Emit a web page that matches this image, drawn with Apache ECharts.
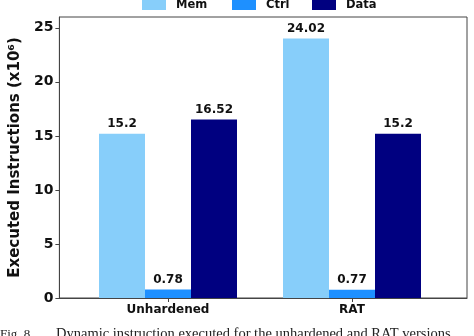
<!DOCTYPE html>
<html><head><meta charset="utf-8">
<script src="https://cdn.jsdelivr.net/npm/echarts@6/dist/echarts.min.js"></script>
<style>html,body{margin:0;padding:0;background:#fff;}#c{width:474px;height:336px;}</style>
</head><body><div id="c"></div>
<script>
const categories = ['Unhardened', 'RAT'];
const memValues = [15.2, 24.02];
const ctrlValues = [0.78, 0.77];
const dataValues = [16.52, 15.2];
const yTicks = [0, 5, 10, 15, 20, 25];
const seriesNames = ['Mem', 'Ctrl', 'Data'];

const F = 'DejaVu Sans';
const chart = echarts.init(document.getElementById('c'));
const lbl = {show: true, position: 'top', distance: 4, color: '#111', fontFamily: F, fontWeight: 'bold', fontSize: 12};
function series(name, vals, color) {
  return {name, type: 'bar', xAxisIndex: 1, yAxisIndex: 1, data: vals, barWidth: 46, barGap: '0%',
    itemStyle: {color}, label: lbl};
}
const legendLefts = [142, 232, 312];
const legends = seriesNames.map((n, i) => ({
  top: -1, left: legendLefts[i], itemWidth: 24, itemHeight: 10, icon: 'rect', padding: 0,
  textStyle: {fontFamily: F, fontWeight: 'bold', fontSize: 11.5, color: '#111', padding: [0, 0, 0, 5]},
  data: [n]
}));
chart.setOption({
  animation: false,
  textStyle: {fontFamily: F},
  legend: legends,
  grid: [
    {left: 53, right: 7, top: 17, bottom: 38, show: true, borderColor: '#444', borderWidth: 1},
    {left: 76, right: 30, top: 17, bottom: 38}
  ],
  xAxis: [
    {type: 'value', gridIndex: 0, min: 0, max: 1, axisLabel: {show: false}, axisTick: {show: false}, splitLine: {show: false},
      axisLine: {show: true, lineStyle: {color: '#444'}}},
    {type: 'category', gridIndex: 1, data: categories,
      axisLine: {show: false}, axisTick: {show: true, alignWithLabel: true, length: 4, lineStyle: {color: '#444'}},
      axisLabel: {margin: 6, color: '#111', fontFamily: F, fontWeight: 'bold', fontSize: 12}}
  ],
  yAxis: [
    {type: 'value', gridIndex: 0, min: 0, max: 26, interval: 5,
      name: 'Executed Instructions (x10⁶)', nameLocation: 'middle', nameGap: 30,
      nameTextStyle: {fontFamily: F, fontWeight: 'bold', fontSize: 15, color: '#111'},
      axisLine: {show: true, lineStyle: {color: '#444'}}, axisTick: {show: true, length: 4, lineStyle: {color: '#444'}},
      axisLabel: {showMaxLabel: false, margin: 6, color: '#111', fontFamily: F, fontWeight: 'bold', fontSize: 14,
        formatter: v => yTicks.includes(v) ? String(v) : ''},
      splitLine: {show: false}},
    {type: 'value', gridIndex: 1, min: 0, max: 26, show: false}
  ],
  series: [
    series(seriesNames[0], memValues, '#87CEFA'),
    series(seriesNames[1], ctrlValues, '#1E90FF'),
    series(seriesNames[2], dataValues, '#000080')
  ],
  graphic: [
    {type: 'text', left: 0, top: 328, style: {text: 'Fig. 8.', font: '13px "Liberation Serif"', fill: '#222'}},
    {type: 'text', left: 56, top: 327, style: {text: 'Dynamic instruction executed for the unhardened and RAT versions', font: '14.5px "Liberation Serif"', fill: '#222'}}
  ]
});
</script></body></html>
